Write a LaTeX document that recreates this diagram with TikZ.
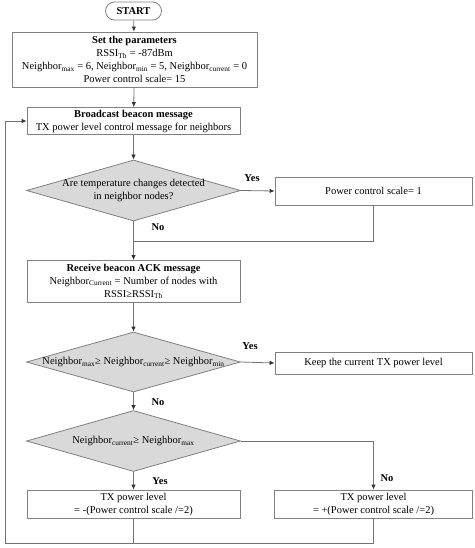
\documentclass[tikz,border=0pt]{standalone}
\usepackage{fontspec}
\setmainfont{Liberation Serif}
\usetikzlibrary{arrows.meta,shapes.geometric}
\tikzset{
  ln/.style={draw=black!55, line width=0.8pt},
  arr/.style={ln, -{Latex[length=5pt,width=4.5pt,color=black!80]}},
  box/.style={draw=black!50, line width=0.8pt, fill=white, align=center, inner sep=1pt, font=\fontsize{10.5}{13}\selectfont},
  dia/.style={draw=black!50, line width=0.8pt, fill=black!15, shape=diamond, inner sep=0pt, font=\fontsize{10.5}{13}\selectfont},
  lab/.style={font=\bfseries\fontsize{10.5}{13}\selectfont, inner sep=1pt},
}
\newcommand{\sbs}[1]{\textsubscript{#1}}
\begin{document}
\begin{tikzpicture}[x=1pt,y=-1pt]
\useasboundingbox (0,0) rectangle (474,548);
\node[box, rounded corners=9pt, minimum width=56pt, minimum height=18pt, font=\bfseries\fontsize{10.5}{13}\selectfont] (start) at (133.5,11) {START};
\node[box, minimum width=245pt, minimum height=55pt] (params) at (134.5,59.5) {\textbf{Set the parameters}\\RSSI\sbs{Th} = -87dBm\\Neighbor\sbs{max} = 6, Neighbor\sbs{min} = 5, Neighbor\sbs{current} = 0\\Power control scale= 15};
\node[box, minimum width=213pt, minimum height=27pt] (bcast) at (133.5,121) {\textbf{Broadcast beacon message}\\TX power level control message for neighbors};
\node[dia, minimum width=214pt, minimum height=61pt, label={[align=center, font=\fontsize{10.5}{13}\selectfont]center:Are temperature changes detected\\in neighbor nodes?}] (d1) at (133.5,190.5) {};
\node[box, minimum width=197pt, minimum height=28pt] (pwr) at (373.5,191) {Power control scale= 1};
\node[box, minimum width=213pt, minimum height=42pt] (recv) at (133.5,281.5) {\textbf{Receive beacon ACK message}\\Neighbor\sbs{Current} = Number of nodes with\\RSSI≥RSSI\sbs{Th}};
\node[dia, minimum width=214pt, minimum height=60pt, label={[font=\fontsize{10.5}{13}\selectfont]center:Neighbor\sbs{max}≥ Neighbor\sbs{current}≥ Neighbor\sbs{min}}] (d2) at (133.5,362) {};
\node[box, minimum width=197pt, minimum height=22pt] (keep) at (373.5,363) {Keep the current TX power level};
\node[dia, minimum width=214pt, minimum height=61pt, label={[font=\fontsize{10.5}{13}\selectfont]center:Neighbor\sbs{current}≥ Neighbor\sbs{max}}] (d3) at (133.5,441) {};
\node[box, minimum width=213pt, minimum height=28pt] (tx1) at (133.5,504) {TX power level\\= -(Power control scale /=2)};
\node[box, minimum width=198pt, minimum height=28pt] (tx2) at (373.5,504) {TX power level\\= +(Power control scale /=2)};
\coordinate (j1) at (133.5,241);
\coordinate (loopc) at (5,543);
\draw[arr] (start) -- (params);
\draw[arr] (params) -- (bcast);
\draw[arr] (bcast) -- (d1);
\draw[arr] (d1.east) -- (pwr.west);
\draw[arr] (d1.south) -- (recv.north);
\draw[ln] (pwr.south) |- (j1);
\draw[arr] (recv) -- (d2);
\draw[arr] (d2.east) -- (keep.west);
\draw[arr] (d2.south) -- (d3.north);
\draw[arr] (d3.south) -- (tx1.north);
\draw[arr] (d3.east) -| (tx2.north);
\draw[ln] (tx1.south) -- (tx1.south |- loopc);
\draw[arr] (tx2.south) |- (loopc) |- (bcast.west);
\node[lab] (y1) at (252,178) {Yes};
\node[lab] (n1) at (158,227) {No};
\node[lab] (y2) at (250,346) {Yes};
\node[lab] (n2) at (158,402) {No};
\node[lab] (y3) at (160,481) {Yes};
\node[lab] (n3) at (387,478) {No};
\end{tikzpicture}
\end{document}
